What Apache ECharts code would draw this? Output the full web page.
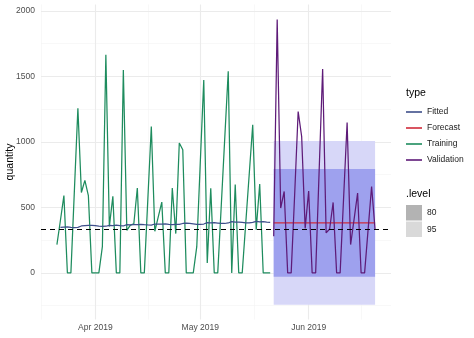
<!DOCTYPE html>
<html><head><meta charset="utf-8">
<script src="https://cdn.jsdelivr.net/npm/echarts@6/dist/echarts.min.js"></script>
<style>html,body{margin:0;padding:0;background:#fff}#c{width:474px;height:338px}</style>
</head><body><div id="c"></div>
<script>
// ---- data ----
const originDate = '2019-04-01T00:00:00Z';
const trainingStart = '2019-03-21T00:00:00Z';
const fittedStart = '2019-03-22T00:00:00Z';
const validationStart = '2019-05-22T00:00:00Z';

const training = [215, 400, 590, 0, 0, 630, 1257, 614, 706, 589,
  0, 0, 0, 200, 1665, 355, 584, 0, 0, 1549,
  325, 365, 375, 648, 0, 0, 560, 1117, 317, 430,
  540, 0, 0, 648, 300, 991, 940, 0, 0, 0,
  200, 840, 1473, 76, 645, 0, 0, 510, 1027, 1540,
  0, 675, 0, 0, 377, 753, 1130, 330, 678, 0,
  0, 0];

const fitted = [348, 350, 352, 347, 345, 348, 358, 360, 362, 363,
  360, 357, 355, 356, 362, 361, 364, 360, 358, 368,
  367, 368, 368, 371, 368, 366, 365, 373, 372, 373,
  374, 371, 369, 371, 371, 377, 380, 377, 374, 371,
  370, 373, 383, 381, 383, 380, 377, 377, 381, 391,
  388, 388, 385, 382, 381, 385, 393, 390, 391, 388, 386];

const validation = [280, 1935, 495, 622, 0, 0, 600, 1232, 1041, 340,
  625, 0, 0, 780, 1557, 305, 335, 538, 0, 0,
  575, 1148, 216, 410, 610, 0, 0, 330, 660, 330];

const forecast = [382, 382, 382, 382, 382, 382, 382, 382, 382, 382,
  382, 382, 382, 382, 382, 382, 382, 382, 382, 382,
  382, 382, 382, 382, 382, 382, 382, 382, 382, 382];
const lower80 = [-30, -30, -30, -30, -30, -30, -30, -30, -30, -30,
  -30, -30, -30, -30, -30, -30, -30, -30, -30, -30,
  -30, -30, -30, -30, -30, -30, -30, -30, -30, -30];
const upper80 = [793, 793, 793, 793, 793, 793, 793, 793, 793, 793,
  793, 793, 793, 793, 793, 793, 793, 793, 793, 793,
  793, 793, 793, 793, 793, 793, 793, 793, 793, 793];
const lower95 = [-244, -244, -244, -244, -244, -244, -244, -244, -244, -244,
  -244, -244, -244, -244, -244, -244, -244, -244, -244, -244,
  -244, -244, -244, -244, -244, -244, -244, -244, -244, -244];
const upper95 = [1007, 1007, 1007, 1007, 1007, 1007, 1007, 1007, 1007, 1007,
  1007, 1007, 1007, 1007, 1007, 1007, 1007, 1007, 1007, 1007,
  1007, 1007, 1007, 1007, 1007, 1007, 1007, 1007, 1007, 1007];

const referenceLevel = 330;

const xTickDates = ['2019-04-01T00:00:00Z', '2019-05-01T00:00:00Z', '2019-06-01T00:00:00Z'];
const xTickLabels = ['Apr 2019', 'May 2019', 'Jun 2019'];
const xMinorDates = ['2019-03-16T12:00:00Z', '2019-04-16T00:00:00Z', '2019-05-16T12:00:00Z', '2019-06-16T00:00:00Z'];
const yTicks = [0, 500, 1000, 1500, 2000];
const yMinorTicks = [-250, 250, 750, 1250, 1750];

const typeNames = ['Fitted', 'Forecast', 'Training', 'Validation'];
const levelNames = ['80', '95'];
const yTitle = 'quantity';

// ---- helpers ----
const DAY = 86400000;
const dayOf = s => (Date.parse(s) - Date.parse(originDate)) / DAY;
const seriesXY = (start, vals) => vals.map((v, i) => [dayOf(start) + i, v]);

const xTicks = xTickDates.map(dayOf);
const xMinor = xMinorDates.map(dayOf);
const labelOf = {};
xTicks.forEach((d, i) => { labelOf[d] = xTickLabels[i]; });

const gridMajor = { color: '#ebebeb', width: 1.1, type: 'solid' };
const gridMinor = { color: '#f3f3f3', width: 0.6, type: 'solid' };
const gridLines = [].concat(
  xMinor.map(v => ({ xAxis: v, lineStyle: gridMinor })),
  yMinorTicks.map(v => ({ yAxis: v, lineStyle: gridMinor })),
  xTicks.map(v => ({ xAxis: v, lineStyle: gridMajor })),
  yTicks.map(v => ({ yAxis: v, lineStyle: gridMajor }))
);

const colors = {
  Fitted: '#3e4f8a',
  Forecast: '#d02b3a',
  Training: '#1e8c5e',
  Validation: '#5e1b78',
  fill95: '#d7d7f8',
  fill80: '#9ea1ee'
};

// band as a polygon through the library's coordinate system
const bandSeries = (name, lower, upper, fill, z) => {
  const data = lower.map((lo, i) => [dayOf(validationStart) + i, lo, upper[i]]);
  return {
    name, type: 'custom', z, silent: true, data,
    encode: { x: 0, y: [1, 2] },
    itemStyle: { color: fill },
    renderItem: (params, api) => {
      if (params.dataIndex !== 0) return null;
      const top = data.map(d => api.coord([d[0], d[2]]));
      const bottom = data.map(d => api.coord([d[0], d[1]])).reverse();
      return { type: 'polygon', shape: { points: top.concat(bottom) }, style: { fill: fill } };
    }
  };
};

const chart = echarts.init(document.getElementById('c'), null, { renderer: 'canvas' });
const FONT = 'Liberation Sans, Arial, sans-serif';

const lineSeries = (name, data, color, z) => ({
  name, type: 'line', data, symbol: 'none', z, silent: true,
  lineStyle: { color, width: 1.25 }, itemStyle: { color },
  emphasis: { disabled: true }, animation: false
});

chart.setOption({
  animation: false,
  textStyle: { fontFamily: FONT },
  title: [
    { text: 'type', left: 406, top: 88, padding: 0, textStyle: { fontSize: 10.5, fontWeight: 'normal', color: '#000', fontFamily: FONT } },
    { text: '.level', left: 406, top: 189, padding: 0, textStyle: { fontSize: 10.5, fontWeight: 'normal', color: '#000', fontFamily: FONT } }
  ],
  graphic: [{
    type: 'text', x: 10, y: 162, rotation: Math.PI / 2, silent: true,
    style: { text: yTitle, fill: '#000', font: '10.5px ' + FONT, align: 'center', verticalAlign: 'middle' }
  }],
  grid: { left: 41, right: 83, top: 4.5, bottom: 18.5, containLabel: false, outerBoundsMode: 'none' },
  xAxis: {
    type: 'value', min: -15.55, max: 84.55,
    axisLine: { show: false }, axisTick: { show: false }, splitLine: { show: false },
    axisLabel: {
      customValues: xTicks, margin: 4, color: '#4d4d4d', fontSize: 8.5, fontFamily: FONT,
      formatter: v => labelOf[v] || ''
    }
  },
  yAxis: {
    type: 'value', min: -356, max: 2049,
    axisLine: { show: false }, axisTick: { show: false }, splitLine: { show: false },
    axisLabel: { customValues: yTicks, margin: 6, color: '#4d4d4d', fontSize: 8.5, fontFamily: FONT,
      formatter: v => String(v) }
  },
  legend: [
    {
      data: typeNames, orient: 'vertical', left: 406, top: 104, padding: 0,
      itemWidth: 16, itemHeight: 1.6, itemGap: 0, icon: 'rect', selectedMode: false,
      textStyle: { fontSize: 8.5, color: '#1a1a1a', lineHeight: 16, fontFamily: FONT }
    },
    {
      data: [
        { name: levelNames[0], itemStyle: { color: '#b3b3b3' } },
        { name: levelNames[1], itemStyle: { color: '#d9d9d9' } }
      ],
      orient: 'vertical', left: 406, top: 205, padding: 0,
      itemWidth: 16, itemHeight: 15.5, itemGap: 1, icon: 'rect', selectedMode: false,
      textStyle: { fontSize: 8.5, color: '#1a1a1a', lineHeight: 15.5, fontFamily: FONT }
    }
  ],
  series: [
    {
      name: 'grid', type: 'line', data: seriesXY(trainingStart, training), z: 0,
      symbol: 'none', lineStyle: { opacity: 0 }, silent: true,
      markLine: { z: 0, silent: true, symbol: 'none', label: { show: false }, animation: false, data: gridLines }
    },
    bandSeries(levelNames[1], lower95, upper95, colors.fill95, 1),
    bandSeries(levelNames[0], lower80, upper80, colors.fill80, 2),
    lineSeries('Fitted', seriesXY(fittedStart, fitted), colors.Fitted, 6),
    lineSeries('Forecast', seriesXY(validationStart, forecast), colors.Forecast, 6),
    lineSeries('Training', seriesXY(trainingStart, training), colors.Training, 5),
    Object.assign(lineSeries('Validation', seriesXY(validationStart, validation), colors.Validation, 7), {
      markLine: {
        z: 10, silent: true, symbol: 'none', label: { show: false }, animation: false,
        lineStyle: { color: '#000', width: 1.1, type: [5, 4] },
        data: [{ yAxis: referenceLevel }]
      }
    })
  ]
});
</script>
</body></html>
